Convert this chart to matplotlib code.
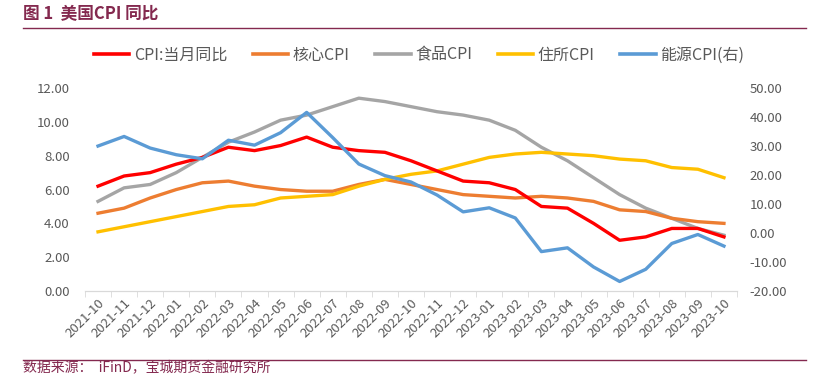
import numpy as np
import matplotlib
matplotlib.use('Agg')
import matplotlib.pyplot as plt
import matplotlib.transforms as mtransforms
from matplotlib.lines import Line2D

plt.rcParams['font.family'] = ['Noto Sans CJK SC', 'DejaVu Sans']

# ── Data ─────────────────────────────────────────────────────────────────────
months = ['2021-10', '2021-11', '2021-12', '2022-01', '2022-02', '2022-03', '2022-04',
          '2022-05', '2022-06', '2022-07', '2022-08', '2022-09', '2022-10', '2022-11',
          '2022-12', '2023-01', '2023-02', '2023-03', '2023-04', '2023-05', '2023-06',
          '2023-07', '2023-08', '2023-09', '2023-10']
cpi     = [6.2, 6.8, 7.0, 7.5, 7.9, 8.5, 8.3, 8.6, 9.1, 8.5, 8.3, 8.2, 7.7, 7.1, 6.5,
           6.4, 6.0, 5.0, 4.9, 4.0, 3.0, 3.2, 3.7, 3.7, 3.2]
core    = [4.6, 4.9, 5.5, 6.0, 6.4, 6.5, 6.2, 6.0, 5.9, 5.9, 6.3, 6.6, 6.3, 6.0, 5.7,
           5.6, 5.5, 5.6, 5.5, 5.3, 4.8, 4.7, 4.3, 4.1, 4.0]
food    = [5.3, 6.1, 6.3, 7.0, 7.9, 8.8, 9.4, 10.1, 10.4, 10.9, 11.4, 11.2, 10.9, 10.6, 10.4,
           10.1, 9.5, 8.5, 7.7, 6.7, 5.7, 4.9, 4.3, 3.7, 3.3]
shelter = [3.5, 3.8, 4.1, 4.4, 4.7, 5.0, 5.1, 5.5, 5.6, 5.7, 6.2, 6.6, 6.9, 7.1, 7.5,
           7.9, 8.1, 8.2, 8.1, 8.0, 7.8, 7.7, 7.3, 7.2, 6.7]
energy  = [30.0, 33.3, 29.3, 27.0, 25.6, 32.0, 30.3, 34.6, 41.6, 32.9, 23.8, 19.8, 17.6, 13.1, 7.3,
           8.7, 5.2, -6.4, -5.1, -11.7, -16.7, -12.5, -3.6, -0.5, -4.5]

left_ticks  = [0, 2, 4, 6, 8, 10, 12]
right_ticks = [-20, -10, 0, 10, 20, 30, 40, 50]

TXT = '#595959'
MAROON = '#84294F'

fig = plt.figure(figsize=(8.14, 3.77), dpi=100, facecolor='white')
ax = fig.add_axes([0.1044, 0.228, 0.801, 0.5385])
ax2 = ax.twinx()

x = np.arange(len(months))
lw = 2.4
ax.plot(x, cpi, color='#FF0000', lw=lw, label='CPI:当月同比', zorder=5)
ax.plot(x, core, color='#ED7D31', lw=lw, label='核心CPI', zorder=3)
ax.plot(x, food, color='#A5A5A5', lw=lw, label='食品CPI', zorder=2)
ax.plot(x, shelter, color='#FFC000', lw=lw, label='住所CPI', zorder=4)
ax2.plot(x, energy, color='#5B9BD5', lw=lw, label='能源CPI(右)')

ax.set_xlim(-0.5, len(months) - 0.5)
ax.set_ylim(0, 12)
ax2.set_ylim(-20, 50)
ax.set_yticks(left_ticks)
ax.set_yticklabels([f'{v:.2f}' for v in left_ticks])
ax2.set_yticks(right_ticks)
ax2.set_yticklabels([f'{v:.2f}' for v in right_ticks])

ax.set_xticks(x)
ax.set_xticklabels(months, rotation=45, ha='right', va='top', rotation_mode='anchor')
offset = mtransforms.ScaledTranslation(5 / 100, -2 / 100, fig.dpi_scale_trans)
for lab in ax.get_xticklabels():
    lab.set_transform(lab.get_transform() + offset)
ax.set_xticks(np.arange(-0.5, len(months)), minor=True)
ax.tick_params(axis='x', which='major', length=0, labelsize=9.5, colors=TXT, pad=4)
ax.tick_params(axis='x', which='minor', length=4, color='#D9D9D9')
ax.tick_params(axis='y', length=0, labelsize=9.5, colors=TXT, pad=11)
ax2.tick_params(axis='y', length=0, labelsize=9.5, colors=TXT, pad=9)

for a in (ax, ax2):
    for s in ('top', 'left', 'right'):
        a.spines[s].set_visible(False)
    a.spines['bottom'].set_color('#D9D9D9')

# legend
handles = [Line2D([], [], color=c, lw=2.6) for c in
           ['#FF0000', '#ED7D31', '#A5A5A5', '#FFC000', '#5B9BD5']]
labels = ['CPI:当月同比', '核心CPI', '食品CPI', '住所CPI', '能源CPI(右)']
fig.legend(handles, labels, loc='center', bbox_to_anchor=(0.515, 0.854), ncol=5,
           frameon=False, fontsize=11.5, handlelength=2.2, handletextpad=0.3,
           columnspacing=1.6, labelcolor=TXT)

# title, rules and source
fig.text(0.028, 0.963, '图 1  美国CPI 同比', fontsize=12, fontweight='bold',
         color=MAROON, va='center', ha='left')
fig.add_artist(Line2D([0.028, 0.99], [0.926, 0.926], color=MAROON, lw=1.0))
fig.add_artist(Line2D([0.028, 0.99], [0.045, 0.045], color=MAROON, lw=1.0))
fig.text(0.028, 0.004, '数据来源：  iFinD，宝城期货金融研究所', fontsize=10,
         color=MAROON, va='bottom', ha='left')

fig.savefig('out.png', dpi=100, facecolor='white')
